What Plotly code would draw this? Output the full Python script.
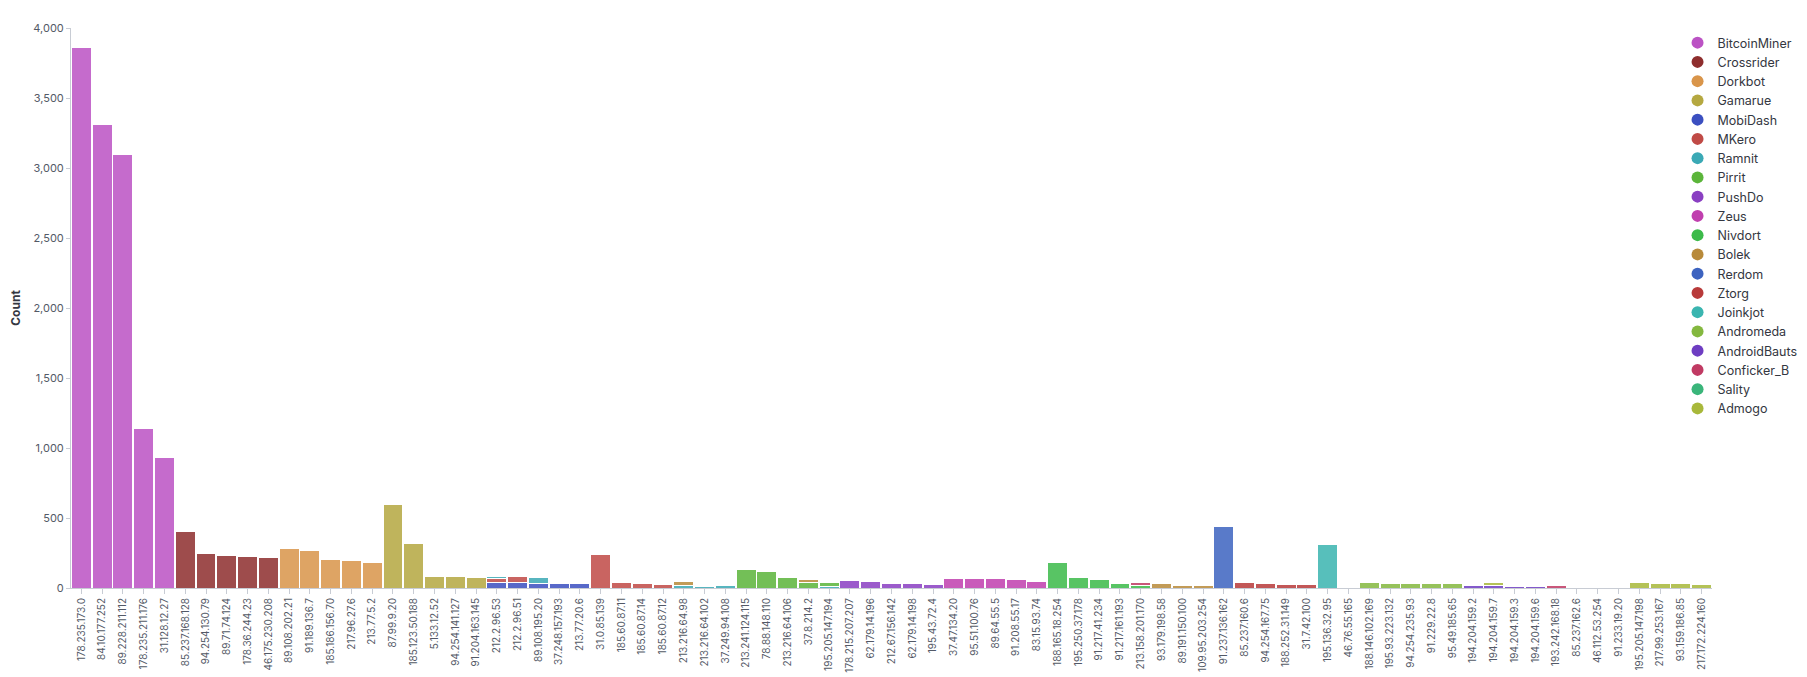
import plotly.graph_objects as go

ips = ["178.235.173.0","84.10.177.252","89.228.211.112","178.235.211.176","31.128.12.27",
"85.237.168.128","94.254.130.79","89.71.74.124","178.36.244.23","46.175.230.208",
"89.108.202.21","91.189.136.7","185.186.156.70","217.96.27.6","213.77.5.2",
"87.99.9.20","185.123.50.188","5.133.12.52","94.254.141.127","91.204.163.145",
"212.2.96.53","212.2.96.51","89.108.195.20","37.248.157.193","213.77.20.6",
"31.0.85.139","185.60.87.11","185.60.87.14","185.60.87.12","213.216.64.98",
"213.216.64.102","37.249.94.108","213.241.124.115","78.88.148.110","213.216.64.106",
"37.8.214.2","195.205.147.194","178.215.207.207","62.179.14.196","212.67.156.142",
"62.179.14.198","195.43.72.4","37.47.134.20","95.51.100.76","89.64.55.5",
"91.208.55.17","83.15.93.74","188.165.18.254","195.250.37.178","91.217.41.234",
"91.217.161.193","213.158.201.170","93.179.198.58","89.191.150.100","109.95.203.254",
"91.237.136.162","85.237.160.6","94.254.167.75","188.252.31.149","31.7.42.100",
"195.136.32.95","46.76.55.165","188.146.102.169","195.93.223.132","94.254.235.93",
"91.229.22.8","95.49.185.65","194.204.159.2","194.204.159.7","194.204.159.3",
"194.204.159.6","193.242.168.18","85.237.162.6","46.112.53.254","91.233.19.20",
"195.205.147.198","217.99.253.167","93.159.186.85","217.172.224.160"]

families = ["BitcoinMiner","Crossrider","Dorkbot","Gamarue","MobiDash","MKero","Ramnit","Pirrit",
"PushDo","Zeus","Nivdort","Bolek","Rerdom","Ztorg","Joinkjot","Andromeda","AndroidBauts",
"Conficker_B","Sality","Admogo"]
colors = ["#bb52c4","#8e2d2d","#d9954a","#b5a840","#3b4fc0","#c04a46","#3aa9b5","#5bb53a",
"#8a3fc2","#c03fae","#3cba4a","#b88a3a","#3d63c0","#b83a3a","#3ab5b0","#84b83f","#6e3dc2",
"#c03a63","#3ab57a","#a8b83a"]

BitcoinMiner = {"178.235.173.0":3860,"84.10.177.252":3310,"89.228.211.112":3100,"178.235.211.176":1140,"31.128.12.27":930}
Crossrider = {"85.237.168.128":405,"94.254.130.79":245,"89.71.74.124":230,"178.36.244.23":222,"46.175.230.208":220}
Dorkbot = {"89.108.202.21":285,"91.189.136.7":265,"185.186.156.70":205,"217.96.27.6":198,"213.77.5.2":185}
Gamarue = {"87.99.9.20":595,"185.123.50.188":315,"5.133.12.52":80,"94.254.141.127":80,"91.204.163.145":78}
MobiDash = {"212.2.96.53":40,"212.2.96.51":40,"89.108.195.20":30,"37.248.157.193":35,"213.77.20.6":32}
MKero = {"212.2.96.53":30,"212.2.96.51":45,"31.0.85.139":240,"185.60.87.11":40,"185.60.87.14":32,"185.60.87.12":25}
Ramnit = {"212.2.96.53":15,"89.108.195.20":45,"213.216.64.98":15,"213.216.64.102":10,"37.249.94.108":15,"195.205.147.194":10}
Pirrit = {"89.108.195.20":10,"213.241.124.115":130,"78.88.148.110":120,"213.216.64.106":75,"37.8.214.2":40,"195.205.147.194":30}
PushDo = {"195.205.147.194":8,"178.215.207.207":55,"62.179.14.196":45,"212.67.156.142":35,"62.179.14.198":30,"195.43.72.4":25}
Zeus = {"37.47.134.20":70,"95.51.100.76":70,"89.64.55.5":68,"91.208.55.17":60,"83.15.93.74":45}
Nivdort = {"188.165.18.254":180,"195.250.37.178":75,"91.217.41.234":60,"91.217.161.193":35,"213.158.201.170":18}
Bolek = {"213.216.64.98":30,"37.8.214.2":20,"93.179.198.58":35,"89.191.150.100":20,"109.95.203.254":18}
Rerdom = {"91.237.136.162":440}
Ztorg = {"85.237.160.6":42,"94.254.167.75":32,"188.252.31.149":25,"31.7.42.100":25}
Joinkjot = {"195.136.32.95":310}
Andromeda = {"188.146.102.169":38,"195.93.223.132":35,"94.254.235.93":35,"91.229.22.8":33,"95.49.185.65":33}
AndroidBauts = {"194.204.159.2":18,"194.204.159.7":15,"194.204.159.3":10,"194.204.159.6":10}
Conficker_B = {"213.216.64.102":10,"213.216.64.106":10,"213.158.201.170":18,"193.242.168.18":15,"85.237.162.6":7}
Sality = {"46.76.55.165":2,"46.112.53.254":4,"91.233.19.20":3}
Admogo = {"194.204.159.7":25,"195.205.147.198":40,"217.99.253.167":33,"93.159.186.85":33,"217.172.224.160":25}

data = [BitcoinMiner,Crossrider,Dorkbot,Gamarue,MobiDash,MKero,Ramnit,Pirrit,PushDo,Zeus,
        Nivdort,Bolek,Rerdom,Ztorg,Joinkjot,Andromeda,AndroidBauts,Conficker_B,Sality,Admogo]

fig = go.Figure()
for name, col, d in zip(families, colors, data):
    fig.add_trace(go.Bar(x=list(d.keys()), y=list(d.values()), name=name, marker_color=col,
                         opacity=0.85, marker_line_color="white", marker_line_width=1,
                         showlegend=False))
    fig.add_trace(go.Scatter(x=[None], y=[None], mode="markers", name=name,
                             marker=dict(color=col, size=10, symbol="circle")))

fig.update_layout(
    barmode="stack", bargap=0.04, width=1807, height=677,
    plot_bgcolor="white", paper_bgcolor="white",
    font=dict(family="Inter, sans-serif", size=11, color="#343741"),
    margin=dict(l=63, r=96, t=20, b=88),
    legend=dict(x=0.979, y=1.0, yanchor="top", xanchor="left", font=dict(size=12.5),
                bgcolor="rgba(0,0,0,0)",
                itemsizing="constant", tracegroupgap=0, traceorder="normal"),
    xaxis=dict(categoryorder="array", categoryarray=ips, tickangle=-90, automargin=True,
               showline=True, linecolor="#c8ccd4", ticks="outside", ticklen=5,
               tickcolor="#c8ccd4", tickfont=dict(size=10, color="#535966")),
    yaxis=dict(range=[0, 4000], dtick=500, tickformat=",", showgrid=False, automargin=False,
               title=dict(text="<b>Count</b>", font=dict(size=12), standoff=10),
               showline=True, linecolor="#c8ccd4", ticks="outside", ticklen=4,
               tickcolor="#c8ccd4", tickfont=dict(size=11, color="#535966"), zeroline=False),
)
fig.write_html("out.html")
